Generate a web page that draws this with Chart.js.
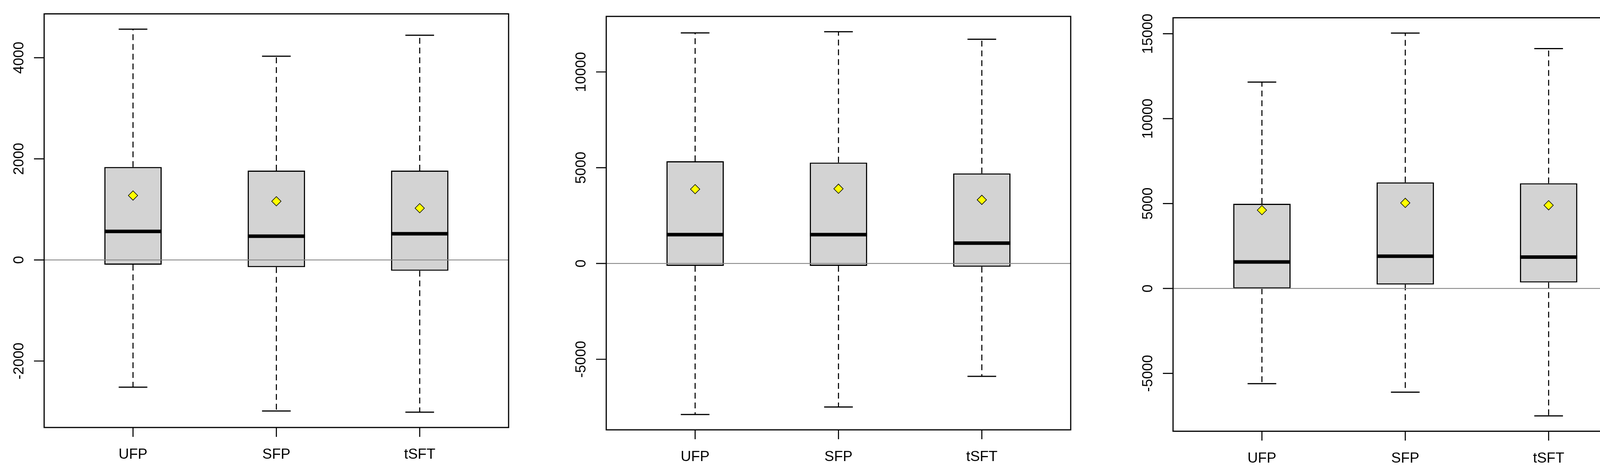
<!DOCTYPE html>
<html>
<head>
<meta charset="utf-8">
<script src="https://cdn.jsdelivr.net/npm/chart.js@4.4.1/dist/chart.umd.min.js"></script>
<style>
  html, body { margin: 0; padding: 0; background: #fff; width: 4219px; height: 1209px; overflow: hidden; }
  canvas { position: absolute; top: 0; }
</style>
</head>
<body>
<canvas id="panel1" width="1406" height="1209" style="left:0px"></canvas>
<canvas id="panel2" width="1406" height="1209" style="left:1406px"></canvas>
<canvas id="panel3" width="1407" height="1209" style="left:2812px"></canvas>
<script>
// groups on the x axis
const categories = ['UFP', 'SFP', 'tSFT'];

// left panel
const p1Max    = [4565, 4030, 4446];
const p1Q3     = [1839, 1768, 1768];
const p1Median = [565, 470, 518];
const p1Q1     = [-95, -143, -214];
const p1Min    = [-2518, -2988, -3012];
const p1Mean   = [1274, 1161, 1024];
const p1Ticks  = [-2000, 0, 2000, 4000];

// middle panel
const p2Max    = [12038, 12100, 11708];
const p2Q3     = [5340, 5266, 4702];
const p2Median = [1505, 1505, 1066];
const p2Q1     = [-125, -125, -172];
const p2Min    = [-7884, -7492, -5893];
const p2Mean   = [3880, 3903, 3323];
const p2Ticks  = [-5000, 0, 5000, 10000];

// right panel
const p3Max    = [12156, 15040, 14126];
const p3Q3     = [4987, 6247, 6193];
const p3Median = [1562, 1899, 1846];
const p3Q1     = [0, 231, 355];
const p3Min    = [-5608, -6105, -7507];
const p3Mean   = [4614, 5040, 4898];
const p3Ticks  = [-5000, 0, 5000, 10000, 15000];

// R style x range: 0.5..n+0.5 padded by 4%
const xLo = 0.5 - 0.04 * categories.length;
const xHi = categories.length + 0.5 + 0.04 * categories.length;
const capHalf = 0.1;
const boxHalf = 0.2;
const FONT = '37px "Liberation Sans", Arial, sans-serif';

// frame, ticks and labels like base R graphics
const rAxes = {
  id: 'rAxes',
  afterDraw(chart, args, opts) {
    const { ctx, chartArea: a } = chart;
    const x = chart.scales.x, y = chart.scales.y;
    ctx.save();
    ctx.strokeStyle = '#000';
    ctx.lineWidth = 3;
    ctx.strokeRect(a.left, a.top, a.right - a.left, a.bottom - a.top);

    ctx.lineWidth = 2.7;
    ctx.beginPath();
    opts.ticks.forEach(v => {
      const py = y.getPixelForValue(v);
      ctx.moveTo(a.left - 26, py);
      ctx.lineTo(a.left, py);
    });
    categories.forEach((c, i) => {
      const px = x.getPixelForValue(i + 1);
      ctx.moveTo(px, a.bottom);
      ctx.lineTo(px, a.bottom + 24);
    });
    ctx.stroke();

    ctx.fillStyle = '#000';
    ctx.font = FONT;
    ctx.textAlign = 'center';
    ctx.textBaseline = 'alphabetic';
    categories.forEach((c, i) => {
      ctx.fillText(c, x.getPixelForValue(i + 1), a.bottom + 80);
    });
    opts.ticks.forEach(v => {
      ctx.save();
      ctx.translate(a.left - 53, y.getPixelForValue(v));
      ctx.rotate(-Math.PI / 2);
      ctx.fillText(String(v), 0, 0);
      ctx.restore();
    });
    ctx.restore();
  }
};

function segs(fn) {
  const out = [];
  categories.forEach((c, i) => {
    fn(i, i + 1).forEach(p => out.push(p));
    out.push({ x: i + 1, y: null });
  });
  return out;
}

function makePanel(id, s, ticks, pad) {
  const lo = Math.min(...s.min), hi = Math.max(...s.max);
  const ext = 0.04 * (hi - lo);

  new Chart(document.getElementById(id), {
    type: 'bar',
    data: {
      datasets: [
        {
          type: 'line', order: 6,
          data: segs((i, c) => [{ x: c, y: s.q3[i] }, { x: c, y: s.max[i] }, { x: c, y: null }, { x: c, y: s.q1[i] }, { x: c, y: s.min[i] }]),
          borderColor: '#000', borderWidth: 2.7, borderDash: [15, 10],
          pointRadius: 0, pointHitRadius: 0
        },
        {
          type: 'line', order: 5,
          data: segs((i, c) => [{ x: c - capHalf, y: s.max[i] }, { x: c + capHalf, y: s.max[i] }, { x: c, y: null },
                                { x: c - capHalf, y: s.min[i] }, { x: c + capHalf, y: s.min[i] }]),
          borderColor: '#000', borderWidth: 3,
          pointRadius: 0, pointHitRadius: 0
        },
        {
          order: 4,
          data: categories.map((c, i) => ({ x: i + 1, y: [s.q1[i], s.q3[i]] })),
          backgroundColor: '#d3d3d3', borderColor: '#000', borderWidth: 3, borderSkipped: false,
          barPercentage: 2 * boxHalf, categoryPercentage: 1
        },
        {
          type: 'line', order: 3,
          data: segs((i, c) => [{ x: c - boxHalf, y: s.median[i] }, { x: c + boxHalf, y: s.median[i] }]),
          borderColor: '#000', borderWidth: 9,
          pointRadius: 0, pointHitRadius: 0
        },
        {
          type: 'line', order: 2,
          data: [{ x: xLo, y: 0 }, { x: xHi, y: 0 }],
          borderColor: '#888888', borderWidth: 2.3,
          pointRadius: 0, pointHitRadius: 0
        },
        {
          type: 'line', order: 1, showLine: false,
          data: categories.map((c, i) => ({ x: i + 1, y: s.mean[i] })),
          pointStyle: 'rectRot', pointRadius: 12,
          pointBackgroundColor: '#ffff00', pointBorderColor: '#000', pointBorderWidth: 1.5
        }
      ]
    },
    options: {
      responsive: false,
      devicePixelRatio: 1,
      animation: false,
      layout: { padding: pad },
      plugins: {
        legend: { display: false },
        tooltip: { enabled: false },
        rAxes: { ticks: ticks }
      },
      scales: {
        x: {
          type: 'linear', display: false, offset: false,
          min: xLo, max: xHi,
          grid: { offset: false },
          afterBuildTicks: sc => { sc.ticks = categories.map((c, i) => ({ value: i + 1 })); }
        },
        y: {
          type: 'linear', display: false,
          min: lo - ext, max: hi + ext
        }
      }
    },
    plugins: [rAxes]
  });
}

makePanel('panel1',
  { max: p1Max, q3: p1Q3, median: p1Median, q1: p1Q1, min: p1Min, mean: p1Mean },
  p1Ticks, { left: 113, right: 104, top: 35.5, bottom: 114 });
makePanel('panel2',
  { max: p2Max, q3: p2Q3, median: p2Median, q1: p2Q1, min: p2Min, mean: p2Mean },
  p2Ticks, { left: 146, right: 71, top: 42, bottom: 108 });
makePanel('panel3',
  { max: p3Max, q3: p3Q3, median: p3Median, q1: p3Q1, min: p3Min, mean: p3Mean },
  p3Ticks, { left: 191, right: 27, top: 45.5, bottom: 104.4 });
</script>
</body>
</html>
